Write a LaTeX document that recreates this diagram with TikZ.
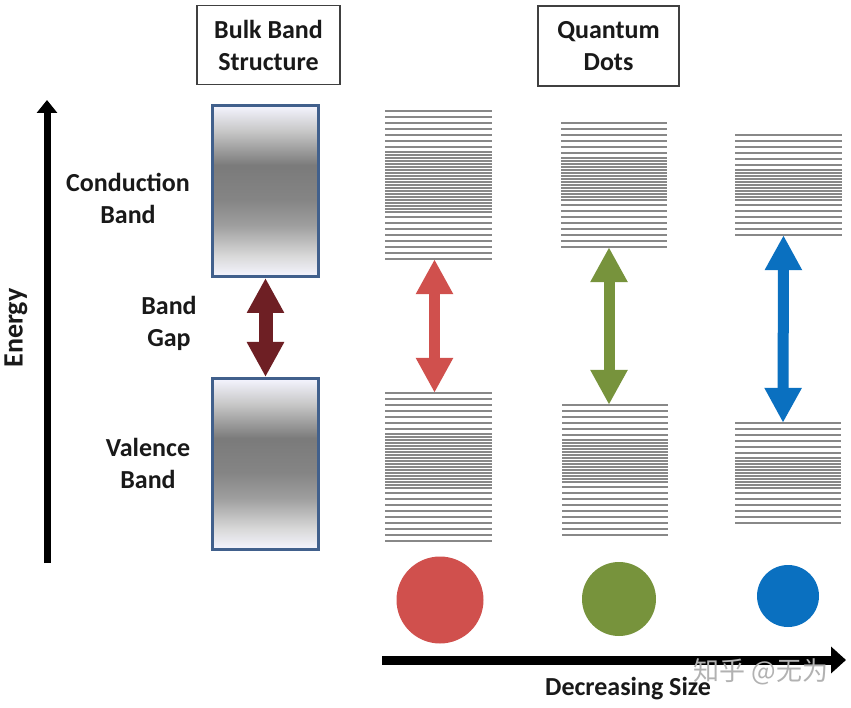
\documentclass[tikz,border=0pt]{standalone}
\usepackage{fontspec}
\setmainfont{Carlito}
\newfontfamily\cjkfont{Noto Sans CJK SC}
\usetikzlibrary{arrows.meta,fit}
\definecolor{boxblue}{HTML}{41608C}
\definecolor{gapred}{HTML}{6E1F24}
\definecolor{qdred}{HTML}{D0504D}
\definecolor{qdgreen}{HTML}{77933C}
\definecolor{qdblue}{HTML}{0A70C0}
\definecolor{lvlgray}{HTML}{888888}
\pgfdeclareverticalshading{bulkshade}{100bp}{%
 color(0bp)=(white); color(25bp)=(white!96!blue);
 color(31bp)=(black!15); color(40bp)=(black!38);
 color(47.5bp)=(black!48); color(57.5bp)=(black!52);
 color(67.5bp)=(black!22); color(75bp)=(white!96!blue);
 color(100bp)=(white)}
\tikzset{
 lbl/.style={font=\bfseries\fontsize{26}{32}\selectfont, align=center, text=black!90, inner sep=0pt},
 titlebox/.style={draw=black!75, line width=1.3pt, fill=white, inner sep=0pt},
 bulkbox/.style={draw=boxblue, line width=3pt, shading=bulkshade, minimum width=106pt, minimum height=171pt, inner sep=0pt},
 lvl/.style={draw=lvlgray, line width=1.7pt},
 lvldense/.style={draw=lvlgray, line width=2.1pt},
 fatarrow/.style={line width=11pt, {Triangle[width=35pt,length=35pt]}-{Triangle[width=35pt,length=35pt]}},
 axisarrow/.style={line width=7pt, -{Triangle[width=20pt,length=13pt]}},
 dot/.style={circle, inner sep=0pt}
}
\newcommand\qdstack[7]{%
 \pgfmathsetmacro\qdA{#4+6*(#5-1)+5}%
 \pgfmathsetmacro\qdB{\qdA+3*(#6-1)+5}%
 \pgfmathsetmacro\qdC{\qdB+6*(#7-1)}%
 \foreach \k in {1,...,#5} {\draw[lvl] (#2,{#4+6*(\k-1)}) -- (#3,{#4+6*(\k-1)});}
 \foreach \k in {1,...,#6} {\draw[lvldense] (#2,{\qdA+3*(\k-1)}) -- (#3,{\qdA+3*(\k-1)});}
 \foreach \k in {1,...,#7} {\draw[lvl] (#2,{\qdB+6*(\k-1)}) -- (#3,{\qdB+6*(\k-1)});}
 \coordinate (#1-nw) at (#2,#4);
 \coordinate (#1-se) at (#3,\qdC);
 \node[fit=(#1-nw)(#1-se), inner sep=0pt] (#1) {};
}
\begin{document}
\begin{tikzpicture}[x=1pt,y=-1pt]
\useasboundingbox[fill=white] (0,0) rectangle (851,708);

% title boxes
\node[titlebox, minimum width=143pt, minimum height=79pt] (bulkt) at (268.5,45) {};
\node[lbl] (bulktxt) at (bulkt.center) {Bulk Band\\Structure};
\node[titlebox, minimum width=141pt, minimum height=80pt] (qdt) at (608.5,46) {};
\node[lbl] (qdtxt) at (qdt.center) {Quantum\\Dots};

% energy axis
\coordinate (ebot) at (47,563);
\coordinate (etop) at (47,100);
\draw[axisarrow] (ebot) -- (etop);
\node[lbl, rotate=90, font=\bfseries\fontsize{28}{32}\selectfont] (energy) at (16,328) {Energy};

% bulk bands
\node[bulkbox] (cb) at (265.5,191) {};
\node[bulkbox] (vb) at (265.5,464) {};
\draw[fatarrow, draw=gapred, line width=14pt] (cb.south) -- (vb.north);
\node[lbl] (cbl) at (128,198) {Conduction\\Band};
\node[lbl] (gapl) at (169,323) {Band\\Gap};
\node[lbl] (vbl) at (148,463) {Valence\\Band};

% quantum dot levels
\qdstack{s1u}{385}{492}{111}{7}{21}{8}
\qdstack{s1l}{385}{492}{393}{7}{19}{9}
\qdstack{s2u}{561}{667}{123}{6}{15}{8}
\qdstack{s2l}{562}{668}{405}{6}{15}{9}
\qdstack{s3u}{735}{842}{135}{6}{11}{6}
\qdstack{s3l}{735}{841}{423}{6}{11}{6}

\draw[fatarrow, draw=qdred] ([xshift=-4pt]s1u.south) -- ([xshift=-4pt]s1l.north);
\draw[fatarrow, draw=qdgreen] ([xshift=-5pt]s2u.south) -- ([xshift=-6pt]s2l.north);
\draw[fatarrow, draw=qdblue] ([xshift=-5pt]s3u.south) -- ([xshift=-5pt]s3l.north);

% dots
\node[dot, fill=qdred, minimum size=87pt] (d1) at (440,600) {};
\node[dot, fill=qdgreen, minimum size=74pt] (d2) at (619,599) {};
\node[dot, fill=qdblue, minimum size=62pt] (d3) at (788,596) {};

% size axis
\coordinate (sleft) at (382,660);
\coordinate (sright) at (846,660);
\draw[line width=9pt, -{Triangle[width=26pt,length=15pt]}] (sleft) -- (sright);
\node[lbl] (size) at (628,689) {Decreasing Size};
\node[font=\cjkfont\fontsize{26}{26}\selectfont, text=black!30, inner sep=0pt] (wm) at (761,672) {知乎 @无为};
\end{tikzpicture}
\end{document}
